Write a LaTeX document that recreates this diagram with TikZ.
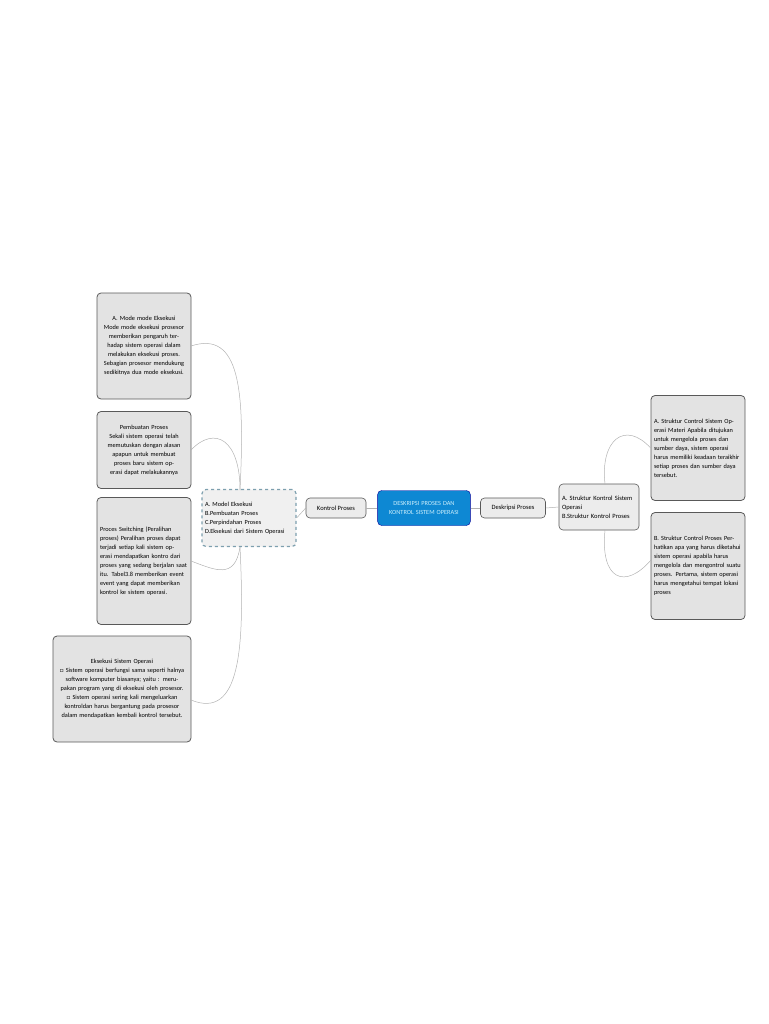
\documentclass[tikz,border=0pt]{standalone}
\usepackage{fontspec}
\setmainfont{Carlito}
\begin{document}
\begin{tikzpicture}[x=1pt,y=-1pt,
  leaf/.style={draw=gray!70!black,fill=gray!22,rounded corners=4pt,line width=0.8pt,align=center,font=\fontsize{6.3}{9}\selectfont,inner sep=3pt,drop shadow/.try},
  mid/.style={draw=gray!70!black,fill=gray!15,rounded corners=4pt,line width=0.6pt,font=\fontsize{6.5}{9}\selectfont,inner sep=3pt},
  conn/.style={draw=gray!60,line width=0.5pt}]
\useasboundingbox (0,0) rectangle (768,1024);
\node[leaf,text width=88pt,minimum height=106pt] (a) at (144,346) {A. Mode mode Eksekusi\\Mode mode eksekusi prosesor memberikan pengaruh terhadap sistem operasi dalam melakukan eksekusi proses. Sebagian prosesor mendukung sedikitnya dua mode eksekusi.};
\node[leaf,text width=88pt,minimum height=77pt] (b) at (144,450) {Pembuatan Proses\\Sekali sistem operasi telah memutuskan dengan alasan apapun untuk membuat proses baru sistem operasi dapat melakukannya};
\node[leaf,text width=88pt,minimum height=127pt,align=left] (c) at (144,561) {Proces Switching (Peralihan proses) Peralihan proses dapat terjadi setiap kali sistem operasi mendapatkan kontro dari proses yang sedang berjalan saat itu. Tabel3.8 memberikan event event yang dapat memberikan kontrol ke sistem operasi.};
\node[leaf,text width=132pt,minimum height=106pt] (d) at (122,689) {Eksekusi Sistem Operasi\\\symbol{"25A1} Sistem operasi berfungsi sama seperti halnya software komputer biasanya; yaitu : merupakan program yang di eksekusi oleh prosesor. \symbol{"25A1} Sistem operasi sering kali mengeluarkan kontroldan harus bergantung pada prosesor dalam mendapatkan kembali kontrol tersebut.};
\node[leaf,fill=gray!12,draw=cyan!30!gray,dashed,line width=1.2pt,text width=88pt,minimum height=57pt,align=left] (e) at (249,518) {A. Model Eksekusi\\B.Pembuatan Proses\\C.Perpindahan Proses\\D.Eksekusi dari Sistem Operasi};
\node[mid,minimum width=60pt,minimum height=20pt] (k) at (336,508) {Kontrol Proses};
\node[draw=blue!60!black,fill=cyan!70!blue,rounded corners=4pt,text width=86pt,minimum height=35pt,align=center,font=\fontsize{6.3}{8.5}\selectfont,text=white!80!cyan] (m) at (424,508) {DESKRIPSI PROSES DAN KONTROL SISTEM OPERASI};
\node[mid,minimum width=65pt,minimum height=20pt] (p) at (513,508) {Deskripsi Proses};
\node[mid,text width=74pt,minimum height=46pt,align=left] (s) at (599,507) {A. Struktur Kontrol Sistem Operasi\\B.Struktur Kontrol Proses};
\node[leaf,text width=88pt,minimum height=105pt,align=left] (f) at (698,448) {A. Struktur Control Sistem Operasi Materi Apabila ditujukan untuk mengelola proses dan sumber daya, sistem operasi harus memiliki keadaan teraikhir setiap proses dan sumber daya tersebut.};
\node[leaf,text width=88pt,minimum height=107pt,align=left] (g) at (698,566) {B. Struktur Control Proses Perhatikan apa yang harus diketahui sistem operasi apabila harus mengelola dan mengontrol suatu proses. Pertama, sistem operasi harus mengetahui tempat lokasi proses};
\draw[conn] (e.west) ++(38,-28) coordinate (et);
\draw[conn] (240,490) .. controls (245,390) and (240,330) .. (191,346);
\draw[conn] (240,490) .. controls (240,440) and (215,425) .. (191,450);
\draw[conn] (240,547) .. controls (235,580) and (215,570) .. (191,561);
\draw[conn] (240,547) .. controls (245,650) and (240,720) .. (191,700);
\draw[conn] (e.east) -- (k.west);
\draw[conn] (k.east) -- (m.west);
\draw[conn] (m.east) -- (p.west);
\draw[conn] (p.east) -- (s.west);
\draw[conn] (605,484) .. controls (600,440) and (625,420) .. (f.west);
\draw[conn] (605,530) .. controls (600,580) and (625,590) .. (651,560);
\end{tikzpicture}
\end{document}
